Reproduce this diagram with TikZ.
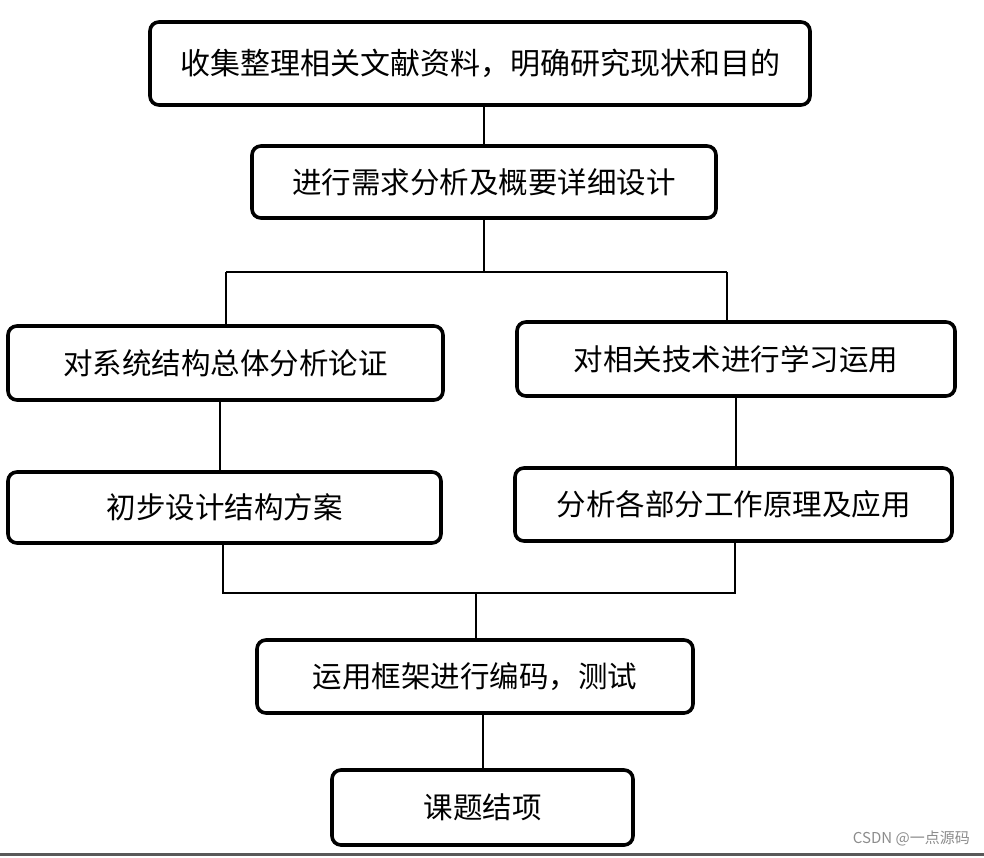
\documentclass[tikz,border=0pt]{standalone}
\usepackage{fontspec}
\setmainfont{Noto Sans CJK SC}
\usetikzlibrary{positioning}

\tikzset{
  stagebox/.style={draw, line width=3.6pt, rounded corners=9pt, inner sep=0pt,
    font=\fontsize{29.5}{34}\selectfont},
  link/.style={draw, line width=1.9pt}
}

\begin{document}
\begin{tikzpicture}[x=1pt,y=-1pt]
  \useasboundingbox (0,0) rectangle (984,857);

  % Stage boxes
  \node[stagebox, minimum width=660, minimum height=83, font=\fontsize{30}{36}\selectfont] (collect) at (480,63.5) {收集整理相关文献资料，明确研究现状和目的};
  \node[stagebox, minimum width=464, minimum height=72] (require) at (484,182) {进行需求分析及概要详细设计};
  \node[stagebox, minimum width=435, minimum height=74] (arch) at (225.5,363) {对系统结构总体分析论证};
  \node[stagebox, minimum width=438, minimum height=74] (tech) at (736,359) {对相关技术进行学习运用};
  \node[stagebox, minimum width=433, minimum height=71] (plan) at (224.5,507.5) {初步设计结构方案};
  \node[stagebox, minimum width=437, minimum height=73] (principle) at (733.5,504.5) {分析各部分工作原理及应用};
  \node[stagebox, minimum width=436, minimum height=73] (code) at (475,676.5) {运用框架进行编码，测试};
  \node[stagebox, minimum width=301, minimum height=75] (finish) at (482.5,807.5) {课题结项};

  % Split points
  \coordinate (split) at (484,272);
  \coordinate (splitL) at (226,272);
  \coordinate (splitR) at (727,272);
  \coordinate (joinL) at (223,593);
  \coordinate (joinR) at (735,593);
  \coordinate (join) at (476,593);
  \coordinate (leftline) at (220,0);
  \coordinate (lowline) at (483,0);

  % Connectors
  \draw[link] (collect.south -| require.north) -- (require.north);
  \draw[link] (require.south) -- (split);
  \draw[link] (splitL) -- (splitR);
  \draw[link] (splitL) -- (splitL |- arch.north);
  \draw[link] (splitR) -- (splitR |- tech.north);
  \draw[link] (leftline |- arch.south) -- (leftline |- plan.north);
  \draw[link] (tech.south) -- (tech.south |- principle.north);
  \draw[link] (joinL |- plan.south) -- (joinL) -- (joinR) -- (joinR |- principle.south);
  \draw[link] (join) -- (join |- code.north);
  \draw[link] (lowline |- code.south) -- (lowline |- finish.north);

  % Bottom rule and watermark
  \draw[line width=3pt, black!65] (0,854.5) -- (984,854.5);
  \node[anchor=east, text=black!45, font=\fontsize{15}{17}\selectfont, inner sep=0pt] (mark) at (970,838) {CSDN @一点源码};
\end{tikzpicture}
\end{document}
